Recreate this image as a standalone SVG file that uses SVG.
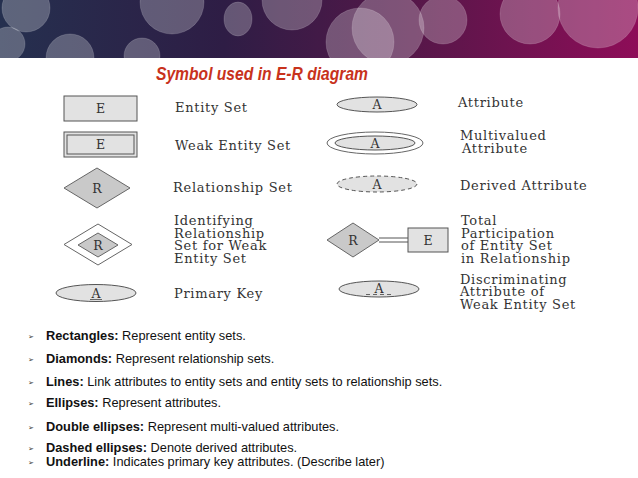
<svg xmlns="http://www.w3.org/2000/svg" width="638" height="478" viewBox="0 0 638 478">
<defs>
<linearGradient id="bg" x1="0" y1="0" x2="1" y2="0">
<stop offset="0" stop-color="#25304f"/>
<stop offset="0.35" stop-color="#2e1d45"/>
<stop offset="0.65" stop-color="#561749"/>
<stop offset="1" stop-color="#8e0d58"/>
</linearGradient>
<clipPath id="bc"><rect x="0" y="0" width="638" height="58"/></clipPath>
<style>
.sh{fill:#e2e2e2;stroke:#555;stroke-width:1}
.dm{fill:#c9c9c9;stroke:#666;stroke-width:1}
.wh{fill:#fff;stroke:#666;stroke-width:1}
.sym{font-family:"DejaVu Serif","Liberation Serif",serif;font-size:12.5px;fill:#333;text-anchor:middle}
.lbl{font-family:"DejaVu Serif","Liberation Serif",serif;font-size:13px;letter-spacing:0.7px;fill:#333}
.bul{font-family:"Liberation Sans",Arial,sans-serif;font-size:12.8px;fill:#111}
.bb{font-weight:bold}
.arr{font-family:"DejaVu Sans",sans-serif;font-size:7px;fill:#333}
.bk{fill:#fff;fill-opacity:0.26;stroke:#fff;stroke-opacity:0.15}
</style>
</defs>
<rect width="638" height="478" fill="#fff"/>
<g id="banner">
<rect x="0" y="0" width="638" height="58" fill="url(#bg)"/>
<g clip-path="url(#bc)">
<circle class="bk" cx="26" cy="8" r="24"/>
<circle class="bk" cx="8" cy="44" r="17"/>
<circle class="bk" cx="70" cy="58" r="24"/>
<circle class="bk" cx="142" cy="56" r="18"/>
<circle class="bk" cx="172" cy="2" r="32"/>
<ellipse class="bk" cx="238" cy="19" rx="14" ry="17"/>
<circle class="bk" cx="292" cy="0" r="30"/>
<circle class="bk" cx="360" cy="42" r="34"/>
<circle class="bk" cx="388" cy="28" r="36"/>
<circle class="bk" cx="443" cy="20" r="24"/>
<circle class="bk" cx="530" cy="14" r="30"/>
<circle class="bk" cx="598" cy="8" r="40"/>
</g>
</g>
<text id="title" x="262" y="80" text-anchor="middle" font-family="Liberation Sans, Arial, sans-serif" font-size="17.5" font-weight="bold" font-style="italic" fill="#c8321c" textLength="212" lengthAdjust="spacingAndGlyphs">Symbol used in E-R diagram</text>

<g id="entity">
<rect class="sh" x="64" y="96" width="73" height="25"/>
<text class="sym" x="100.5" y="113">E</text>
<text class="lbl" x="175" y="112">Entity Set</text>
</g>
<g id="weak-entity">
<rect class="sh" x="64" y="132" width="73" height="25"/>
<rect x="67" y="135" width="67" height="19" fill="none" stroke="#555"/>
<text class="sym" x="100.5" y="149">E</text>
<text class="lbl" x="175" y="150">Weak Entity Set</text>
</g>
<g id="relationship">
<polygon class="dm" points="97,168 130,188 97,208 64,188"/>
<text class="sym" x="97" y="192.5">R</text>
<text class="lbl" x="173" y="192">Relationship Set</text>
</g>
<g id="identifying-relationship">
<polygon class="wh" points="98,224 132,244.5 98,265 64,244.5"/>
<polygon class="dm" points="98,233 118,245 98,257 78,245"/>
<text class="sym" x="98" y="249.5">R</text>
<text class="lbl" x="174" y="225">Identifying</text>
<text class="lbl" x="174" y="238">Relationship</text>
<text class="lbl" x="174" y="250">Set for Weak</text>
<text class="lbl" x="174" y="263">Entity Set</text>
</g>
<g id="primary-key">
<ellipse class="sh" cx="96" cy="293" rx="40" ry="8.5"/>
<text class="sym" x="96" y="297.5">A</text>
<line x1="90" y1="299.5" x2="102" y2="299.5" stroke="#444" stroke-width="0.8"/>
<text class="lbl" x="174" y="298">Primary Key</text>
</g>

<g id="attribute">
<ellipse class="sh" cx="377" cy="104.5" rx="40" ry="7.5"/>
<text class="sym" x="377" y="109">A</text>
<text class="lbl" x="458" y="107">Attribute</text>
</g>
<g id="multivalued">
<ellipse class="wh" cx="375" cy="143" rx="48" ry="11"/>
<ellipse class="sh" cx="375" cy="143" rx="40" ry="7"/>
<text class="sym" x="375" y="147.5">A</text>
<text class="lbl" x="460" y="140">Multivalued</text>
<text class="lbl" x="462" y="153">Attribute</text>
</g>
<g id="derived">
<ellipse class="sh" cx="377" cy="184" rx="40" ry="8" stroke-dasharray="4,3"/>
<text class="sym" x="377" y="188.5">A</text>
<text class="lbl" x="460" y="190">Derived Attribute</text>
</g>
<g id="connectors">
<line x1="379" y1="238" x2="408" y2="238" stroke="#555"/>
<line x1="379" y1="242" x2="408" y2="242" stroke="#555"/>
</g>
<g id="total-participation">
<polygon class="dm" points="353,223 379,240 353,257 327,240"/>
<text class="sym" x="353" y="244.5">R</text>
<rect class="sh" x="408" y="228" width="40" height="24"/>
<text class="sym" x="428" y="244.5">E</text>
<text class="lbl" x="461" y="225">Total</text>
<text class="lbl" x="461" y="238">Participation</text>
<text class="lbl" x="461" y="250">of Entity Set</text>
<text class="lbl" x="461" y="263">in Relationship</text>
</g>
<g id="discriminating">
<ellipse class="sh" cx="379" cy="289" rx="40" ry="8"/>
<text class="sym" x="379" y="292.5">A</text>
<line x1="366" y1="294.5" x2="392" y2="294.5" stroke="#444" stroke-width="0.8" stroke-dasharray="4,3"/>
<text class="lbl" x="460" y="284">Discriminating</text>
<text class="lbl" x="460" y="296">Attribute of</text>
<text class="lbl" x="460" y="309">Weak Entity Set</text>
</g>

<g id="bullets">
<text class="arr" x="28" y="339">➢</text>
<text class="bul" x="46" y="340"><tspan class="bb">Rectangles:</tspan> Represent entity sets.</text>
<text class="arr" x="28" y="362">➢</text>
<text class="bul" x="46" y="363"><tspan class="bb">Diamonds:</tspan> Represent relationship sets.</text>
<text class="arr" x="28" y="385">➢</text>
<text class="bul" x="46" y="386"><tspan class="bb">Lines:</tspan> Link attributes to entity sets and entity sets to relationship sets.</text>
<text class="arr" x="28" y="406">➢</text>
<text class="bul" x="46" y="407"><tspan class="bb">Ellipses:</tspan> Represent attributes.</text>
<text class="arr" x="28" y="430">➢</text>
<text class="bul" x="46" y="431"><tspan class="bb">Double ellipses:</tspan> Represent multi-valued attributes.</text>
<text class="arr" x="28" y="451">➢</text>
<text class="bul" x="46" y="452"><tspan class="bb">Dashed ellipses:</tspan> Denote derived attributes.</text>
<text class="arr" x="28" y="465">➢</text>
<text class="bul" x="46" y="466"><tspan class="bb">Underline:</tspan> Indicates primary key attributes. (Describe later)</text>
</g>
</svg>
